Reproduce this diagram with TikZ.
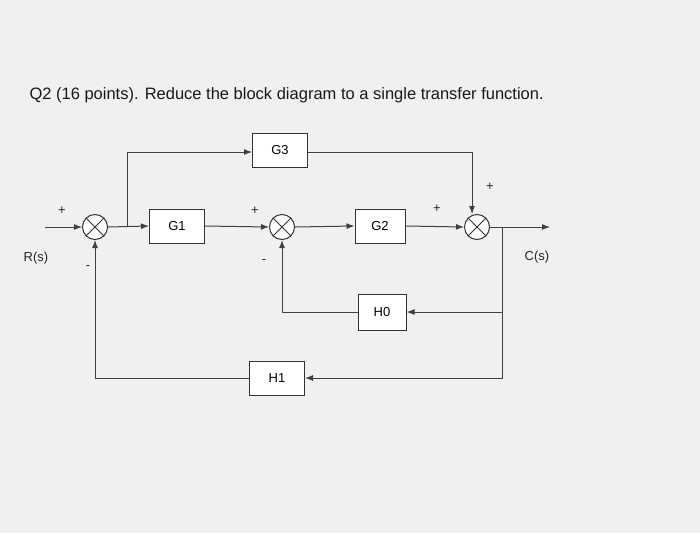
\documentclass[tikz,border=0pt]{standalone}
\usepackage{fontspec}
\setmainfont{Liberation Sans}
\usetikzlibrary{arrows.meta}
\begin{document}
\begin{tikzpicture}[x=1pt,y=-1pt,
  blk/.style={draw=black!80,fill=white,line width=1pt,minimum width=55pt,minimum height=34pt,font=\fontsize{13}{15}\selectfont},
  sumc/.style={draw=black!80,fill=white,circle,line width=1pt,minimum size=25pt,inner sep=0pt},
  wire/.style={draw=black!75,line width=1pt},
  arr/.style={wire,-{Latex[length=8pt,width=6pt]}},
  lbl/.style={font=\fontsize{13}{15}\selectfont,text=black!85}]
\fill[black!6] (0,0) rectangle (700,533);
\useasboundingbox (0,0) rectangle (700,533);
\node[anchor=west,font=\fontsize{16.5}{19}\selectfont,text=black!90] (title) at (26,95) {Q2 (16 points). Reduce the block diagram to a single transfer function.};
% summing junctions
\node[sumc] (s1) at (95,227) {};
\draw[black!80,line width=1pt] (s1.north west)--(s1.south east) (s1.north east)--(s1.south west);
\node[sumc] (s2) at (282,227) {};
\draw[black!80,line width=1pt] (s2.north west)--(s2.south east) (s2.north east)--(s2.south west);
\node[sumc] (s3) at (477,227) {};
\draw[black!80,line width=1pt] (s3.north west)--(s3.south east) (s3.north east)--(s3.south west);
% blocks
\node[blk] (g1) at (177,226) {G1};
\node[blk] (g3) at (280,150) {G3};
\node[blk,minimum width=50pt] (g2) at (380,226) {G2};
\node[blk,minimum width=48pt,minimum height=36pt] (h0) at (382,312) {H0};
\node[blk] (h1) at (277,378) {H1};
% coordinates
\coordinate (in) at (45,227);
\coordinate (out) at (550,227);
\coordinate (b1) at (127,227);
\coordinate (t1) at (127,152);
\coordinate (t2) at (472,152);
\coordinate (o2) at (502,227);
% forward path
\draw[arr] (in) -- (s1.west);
\draw[arr] (s1.east) -- (g1.west);
\draw[arr] (g1.east) -- (s2.west);
\draw[arr] (s2.east) -- (g2.west);
\draw[arr] (g2.east) -- (s3.west);
\draw[arr] (s3.east) -- (out);
% G3 branch
\draw[arr] (b1) -- (t1) -- (g3.west |- t1);
\draw[arr] (g3.east |- t2) -- (t2) -- (s3.north -| t2);
% H0 loop
\draw[arr] (o2) |- (h0.east);
\draw[arr] (h0.west) -| (s2.south);
% H1 loop
\draw[arr] (o2) |- (h1.east);
\draw[arr] (h1.west) -| (s1.south);
% labels
\node[lbl] (p1) at (62,211) {+};
\node[lbl] (m1) at (88,268) {-};
\node[lbl] (p2) at (255,211) {+};
\node[lbl] (m2) at (264,262) {-};
\node[lbl] (p3) at (437,209) {+};
\node[lbl] (p4) at (490,187) {+};
\node[lbl] (rs) at (36,258) {R(s)};
\node[lbl] (cs) at (537,257) {C(s)};
\end{tikzpicture}
\end{document}
